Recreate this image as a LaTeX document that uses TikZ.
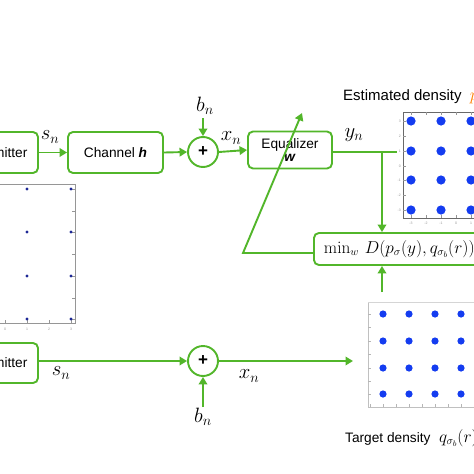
\documentclass[tikz,border=0pt]{standalone}
\usepackage{amsmath}
\usepackage[no-math]{fontspec}
\setmainfont{Liberation Sans}
\usetikzlibrary{arrows.meta}
\definecolor{gr}{RGB}{82,182,42}
\definecolor{dotb}{RGB}{20,60,240}
\definecolor{navy}{RGB}{30,40,150}
\definecolor{axg}{RGB}{150,150,150}
\begin{document}
\begin{tikzpicture}[x=1pt,y=-1pt,
  blk/.style={draw=gr,line width=1.9pt,rounded corners=5pt,fill=white,font=\fontsize{13.7}{15}\selectfont,align=center,inner sep=0pt},
  sumc/.style={draw=gr,line width=1.9pt,circle,minimum size=30pt,inner sep=0pt,fill=white,font=\fontsize{17}{17}\selectfont\bfseries},
  wire/.style={draw=gr,line width=1.9pt},
  arr/.style={wire,-{Triangle[length=7.5pt,width=8.5pt]}},
  lab/.style={font=\fontsize{20}{20}\selectfont},
  tick/.style={font=\fontsize{3.5}{4}\selectfont,text=axg,inner sep=0pt},
  bigdot/.style={fill=dotb,draw=none},
  ttl/.style={anchor=west,inner sep=0pt}]
\useasboundingbox (0,0) rectangle (474,474);
\clip (0,0) rectangle (474,474);
\fill[white] (0,0) rectangle (474,474);

% ---------- left constellation plot ----------
\draw[axg,line width=0.6pt] (-20,184) -- (75,184) -- (75,323) -- (-20,323);
\foreach \x in {5,27,49,71}{\draw[axg,line width=0.4pt] (\x,323) -- (\x,320);}
\foreach \y in {189,211,232,254,276,298,319}{\draw[axg,line width=0.4pt] (75,\y) -- (72,\y);}
\node[tick] (lt0) at (5,329) {0};
\node[tick] (lt1) at (27,329) {1};
\node[tick] (lt2) at (49,329) {2};
\node[tick] (lt3) at (71,329) {3};
\foreach \x in {27,71}{\foreach \y in {189,232,276,319}{\fill[navy] (\x,\y) circle (1.7pt);}}

% ---------- top row ----------
\node[blk,minimum width=98pt,minimum height=41pt] (tx1) at (-11,152.5) {\hspace*{8pt}Transmitter};
\node[blk,minimum width=95pt,minimum height=41pt] (ch) at (115.5,152.5) {Channel \textbf{\textit{h}}};
\node[sumc] (s1) at (203,152) {+};
\node[blk,minimum width=84pt,minimum height=37pt] (eq) at (290,150) {Equalizer\\[-2pt]\textbf{\textit{w}}};
\coordinate (br) at (382,152);
\coordinate (yend) at (397,152);
\coordinate (bn1) at (203,118);
\node[lab] (bnl1) at (205,106) {$b_n$};
\node[lab] (snl1) at (50,137) {$s_n$};
\node[lab] (xnl1) at (231,138) {$x_n$};
\node[lab] (ynl1) at (354,135) {$y_n$};

\draw[arr] (tx1.east) -- (ch.west);
\draw[arr] (ch.east) -- (s1.west);
\draw[arr] (bn1) -- (s1.north);
\draw[arr] (s1.east) -- (eq.west);
\draw[wire] (eq.east |- br) -- (yend);

% ---------- min box ----------
\node[blk,minimum width=210pt,minimum height=32pt,anchor=west,text width=200pt,align=left] (mn) at (313,249)
  {\hspace*{5pt}\fontsize{16}{16}\selectfont$\min_{w}\, D(p_{\sigma}(y),q_{\sigma_b}(r))$};
\draw[arr] (br) -- (br |- mn.north);
\coordinate (fb1) at (243,253);
\coordinate (fb2) at (302,113);
\draw[wire,-{Triangle[length=7.5pt,width=8.5pt]}] (mn.west |- fb1) -- (fb1) -- (fb2);

% ---------- estimated density plot ----------
\node[ttl,font=\fontsize{15}{16}\selectfont] (est) at (343,96) {Estimated density \ \textcolor{orange}{\fontsize{17}{17}\selectfont$p_\sigma(y)$}};
\draw[axg!70!black,line width=0.6pt] (403,112) rectangle (520,218);
\foreach \x in {411,426,441,456,471}{\draw[axg,line width=0.4pt] (\x,218) -- (\x,215); \draw[axg,line width=0.4pt] (\x,112) -- (\x,115);}
\foreach \y in {121,136,151,166,180,195,210}{\draw[axg,line width=0.4pt] (403,\y) -- (406,\y);}
\foreach \x/\t in {411/-3,426/-2,441/-1,456/0,471/1}{\node[tick] (ex\x) at (\x,223) {\t};}
\foreach \y/\t in {121/3,136/2,151/1,166/0,180/-1,195/-2,210/-3}{\node[tick,anchor=east] (ey\y) at (401,\y) {\t};}
\foreach \x in {411,441,471}{\foreach \y in {121,151,180,210}{\fill[bigdot] (\x,\y) circle (4.6pt);}}

% ---------- bottom row ----------
\node[blk,minimum width=98pt,minimum height=40pt] (tx2) at (-11,363) {\hspace*{8pt}Transmitter};
\node[sumc] (s2) at (203,361) {+};
\coordinate (bn2) at (203,407);
\coordinate (xend) at (353,361);
\node[lab] (snl2) at (61,373) {$s_n$};
\node[lab] (bnl2) at (203,417) {$b_n$};
\node[lab] (xnl2) at (249,376) {$x_n$};
\draw[arr] (tx2.east |- s2) -- (s2.west);
\draw[arr] (bn2) -- (s2.south);
\draw[arr] (s2.east) -- (xend);

% ---------- target density plot ----------
\draw[axg!60,line width=0.5pt] (368,302) -- (368,407) -- (520,407);
\draw[axg!40,line width=0.4pt] (368,302) -- (520,302);
\foreach \x in {370,383,396,409,422,435,448,461}{\draw[axg!70,line width=0.4pt] (\x,407) -- (\x,404);}
\foreach \y in {314,327,341,354,368,381,394}{\draw[axg!70,line width=0.4pt] (368,\y) -- (371,\y);}
\foreach \x in {383,409,435,461}{\foreach \y in {314,341,368,394}{\fill[bigdot] (\x,\y) circle (3.6pt);}}
\coordinate (tgtop) at (382,292);
\draw[arr] (tgtop) -- (tgtop |- mn.south);
\node[ttl,font=\fontsize{13.7}{15}\selectfont] (tgt) at (345,438) {Target density {\fontsize{16}{16}\selectfont$\;q_{\sigma_b}(r)$}};
\end{tikzpicture}
\end{document}
